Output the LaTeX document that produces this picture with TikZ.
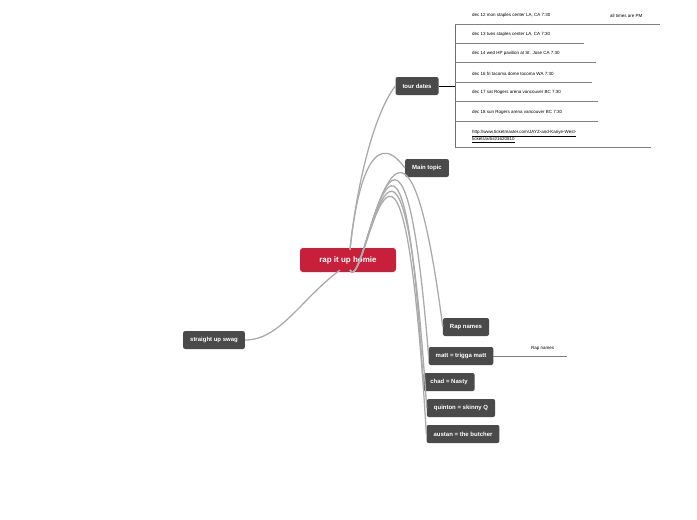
\documentclass[tikz,border=0pt]{standalone}
\usepackage{fontspec}
\setmainfont{Liberation Sans}
\usetikzlibrary{positioning}
\definecolor{topicgray}{HTML}{4A4A4A}
\definecolor{rootred}{HTML}{C8203A}
\definecolor{branchgray}{HTML}{ABABAB}
\begin{document}
\begin{tikzpicture}[x=1pt,y=-1pt]
	\tikzstyle{topic} = [rounded corners=2pt, fill=topicgray, text=white, font=\bfseries\fontsize{6}{7}\selectfont, minimum height=18pt, inner xsep=7pt]
	\tikzstyle{central} = [rounded corners=3pt, fill=rootred, text=white, font=\bfseries\fontsize{8}{9}\selectfont, minimum height=24pt, minimum width=96pt]
	\tikzstyle{branch} = [draw=branchgray, line width=1.3pt]
	\tikzstyle{leaf} = [anchor=south west, font=\fontsize{4.5}{5.5}\selectfont, inner sep=2pt, align=left]
	\useasboundingbox (0,0) rectangle (697,520);

	% central topic
	\node[central] (root) at (348,260) {rap it up homie};

	% main topics
	\node[topic] (tour) at (417,86) {tour dates};
	\node[topic] (main) at (427,168) {Main topic};
	\node[topic] (rap) at (466,327) {Rap names};
	\node[topic] (matt) at (461,356) {matt = trigga matt};
	\node[topic] (chad) at (449,382) {chad = Nasty};
	\node[topic] (quinton) at (461,408) {quinton = skinny Q};
	\node[topic] (austan) at (463,434) {austan = the butcher};
	\node[topic] (swag) at (214,340) {straight up swag};

	% branches
	\foreach \target in {tour, main}
		\draw[branch] (350,250) .. controls (355,200) and (370,120) .. (\target.west);
	\foreach \target in {rap, matt, chad, quinton, austan}
		\draw[branch] (350,270) .. controls (365,300) and (400,\pgfkeysvalueof{/pgf/minimum height}) .. (\target.west);
	\draw[branch] (340,270) .. controls (300,300) and (280,340) .. (swag.east);

	% tour dates
	\draw[black, line width=0.8pt] (tour.east) -- (455,86);
	\draw[topicgray!80, line width=0.5pt] (455,24) -- (455,147);
	\foreach \y / \len / \txt in {
			24/582/{dec 12 mon staples center LA, CA 7:30},
			43/584/{dec 13 tues staples center LA, CA 7:30},
			62/596/{dec 14 wed HP pavilion at St. Jose CA 7:30},
			82/592/{dec 16 fri tacoma dome tocoma WA 7:30},
			101/598/{dec 17 sat Rogers arena vancouver BC 7:30},
			121/598/{dec 18 sun Rogers arena vancouver BC 7:30}} {
		\coordinate (d-\y) at (455,\y);
		\draw[gray, line width=0.5pt] (d-\y) -- (\len,\y);
		\node[leaf] at (470,\y-4) {\txt};
	}
	\draw[gray, line width=0.5pt] (582,24) -- (660,24);
	\node[leaf] (pm) at (608,20) {all times are PM};
	\coordinate (link) at (455,147);
	\draw[gray, line width=0.5pt] (link) -- (651,147);
	\node[leaf] at (470,145) {\underline{http://www.ticketmaster.com/JAYZ-and-Kanye-West-}\\\underline{tickets/artist/1620810}};

	% rap names note
	\coordinate (note) at (567,356);
	\draw[gray, line width=0.5pt] (matt.east) -- (note);
	\node[leaf] at (529,353) {Rap names};
\end{tikzpicture}
\end{document}
